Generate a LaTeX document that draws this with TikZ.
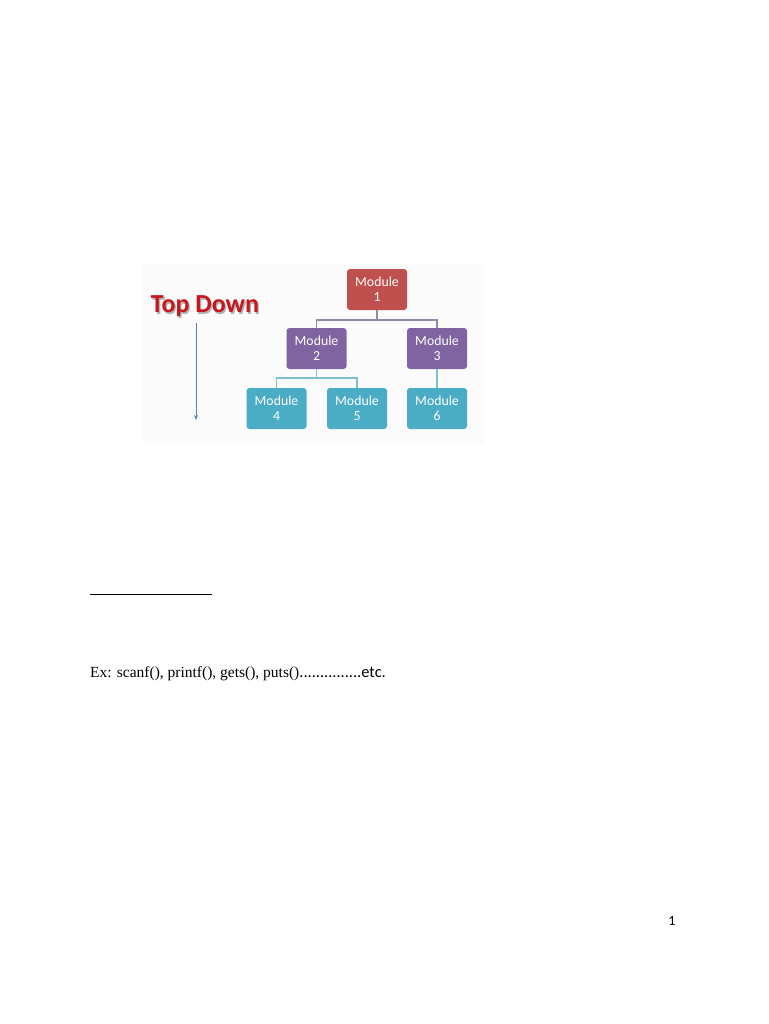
\documentclass[tikz,border=0pt]{standalone}
\usepackage{fontspec}
\setmainfont{Liberation Serif}
\newfontfamily\calfont{Carlito}
\usetikzlibrary{arrows.meta}
\definecolor{modred}{HTML}{C0504D}
\definecolor{modpurple}{HTML}{8064A2}
\definecolor{modcyan}{HTML}{4BACC6}
\definecolor{linepurple}{HTML}{8E8AAE}
\definecolor{linecyan}{HTML}{7CC0D2}
\definecolor{tdred}{HTML}{C8161D}
\definecolor{arrowblue}{HTML}{5A7DB5}
\tikzset{
  modbox/.style={rounded corners=3pt, minimum width=60pt, minimum height=41pt, inner sep=0pt,
    text=white, align=center, font=\calfont\fontsize{13.8}{15}\selectfont},
  conn/.style={line width=1.6pt},
  tdtext/.style={font=\calfont\bfseries\fontsize{26}{28}\selectfont},
}
\begin{document}
\begin{tikzpicture}[x=1pt,y=-1pt]
\useasboundingbox (0,0) rectangle (768,1024);
\fill[white] (0,0) rectangle (768,1024);
% faint photo background
\fill[black!1.5] (143,264) rectangle (484,443);

\node[modbox, fill=modred] (m1) at (377,289.5) {Module\\1};
\node[modbox, fill=modpurple] (m2) at (316.5,348.5) {Module\\2};
\node[modbox, fill=modpurple] (m3) at (437,348.5) {Module\\3};
\node[modbox, fill=modcyan] (m4) at (276.5,408.5) {Module\\4};
\node[modbox, fill=modcyan] (m5) at (357,408.5) {Module\\5};
\node[modbox, fill=modcyan] (m6) at (437,408.5) {Module\\6};

\draw[conn, linepurple] (m1.south) -- ++(0,9.5) -| (m2.north);
\draw[conn, linepurple] (m1.south) -- ++(0,9.5) -| (m3.north);
\draw[conn, linecyan] (m2.south) -- ++(0,9) -| (m4.north);
\draw[conn, linecyan] (m2.south) -- ++(0,9) -| (m5.north);
\draw[conn, linecyan] (m3.south) -- (m6.north);

% Top Down label
\node[text=black!30, tdtext] at (206.3,307.8) {Top Down};
\node[text=tdred, tdtext] (td) at (205,306) {Top Down};
\coordinate (as) at (196,323);
\coordinate (ae) at (196,420);
\draw[arrowblue, line width=0.9pt, -{Stealth[length=5pt,width=4pt]}] (as) -- (ae);

% underline
\coordinate (u1) at (90,594);
\coordinate (u2) at (212,594);
\draw[black, line width=0.9pt] (u1) -- (u2);

% example text
\node[anchor=base west, inner sep=0pt, font=\fontsize{15.5}{18}\selectfont] (ex) at (90,677)
  {Ex: scanf(), printf(), gets(), puts(){\calfont\fontsize{16.4}{18}\selectfont ...............etc.}};

% page number
\node[font=\calfont\fontsize{14}{16}\selectfont, inner sep=0pt] (pg) at (672,921) {1};
\end{tikzpicture}
\end{document}
